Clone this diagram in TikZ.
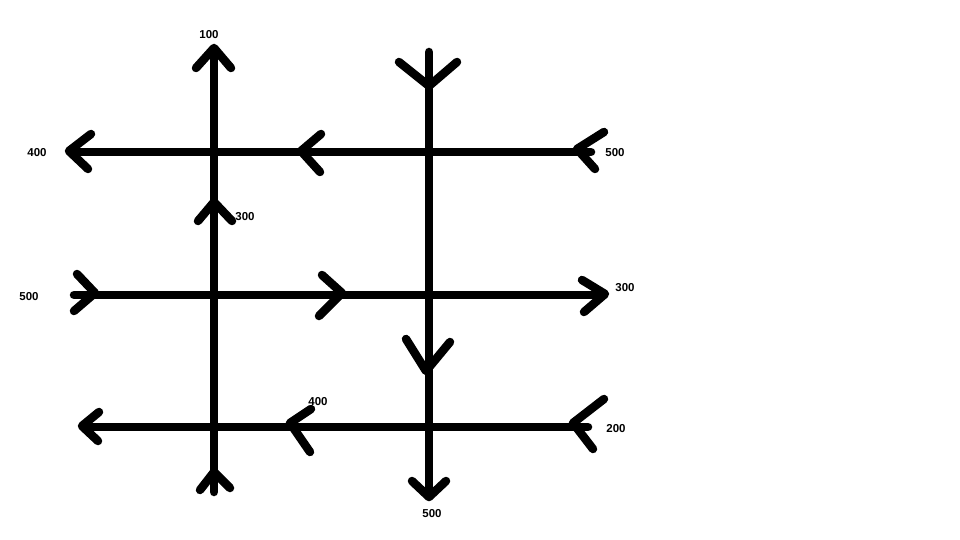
\documentclass[tikz,border=0pt]{standalone}
\usepackage{fontspec}
\setmainfont{Liberation Sans}
\begin{document}
\begin{tikzpicture}[x=1pt,y=-1pt,
  road/.style={line width=8.5pt,line cap=round},
  arm/.style={line width=8.5pt,line cap=round,line join=round},
  lbl/.style={font=\bfseries\fontsize{11.5}{13}\selectfont,inner sep=0pt}]
\useasboundingbox (0,0) rectangle (960,540);
\fill[white] (0,0) rectangle (960,540);
% end points
\coordinate (v1t) at (214,50);
\coordinate (v1b) at (214,492);
\coordinate (v2t) at (429,52);
\coordinate (v2b) at (429,495);
\coordinate (h1l) at (70,152);
\coordinate (h1r) at (591,152);
\coordinate (h2l) at (74,295);
\coordinate (h2r) at (603,295);
\coordinate (h3l) at (84,427);
\coordinate (h3r) at (588,427);
% roads
\draw[road] (v1t) -- (v1b);
\draw[road] (v2t) -- (v2b);
\draw[road] (h1l) -- (h1r);
\draw[road] (h2l) -- (h2r);
\draw[road] (h3l) -- (h3r);
% vertical 1 chevrons (up)
\draw[arm] (196,68) -- (214,48) -- (231,68);
\draw[arm] (198,221) -- (214,202) -- (232,221);
\draw[arm] (200,490) -- (214,472) -- (230,488);
% vertical 2 chevrons (down)
\draw[arm] (399,62) -- (429,86) -- (457,62);
\draw[arm] (406,339) -- (426,371) -- (450,342);
\draw[arm] (412,481) -- (429,497) -- (446,481);
% horizontal 1 chevrons (left)
\draw[arm] (91,134) -- (69,151) -- (88,169);
\draw[arm] (321,134) -- (301,151) -- (320,172);
\draw[arm] (604,132) -- (577,149) -- (595,169);
% horizontal 2 chevrons (right)
\draw[arm] (77,274) -- (95,293) -- (74,311);
\draw[arm] (322,275) -- (342,293) -- (319,316);
\draw[arm] (582,280) -- (605,294) -- (584,312);
% horizontal 3 chevrons (left)
\draw[arm] (99,412) -- (82,426) -- (98,441);
\draw[arm] (311,409) -- (290,423) -- (310,452);
\draw[arm] (604,399) -- (573,423) -- (593,449);
% labels
\node[lbl] (l100) at (209,35) {100};
\node[lbl] (l300a) at (245,217) {300};
\node[lbl] (l500b) at (432,514) {500};
\node[lbl] (l400a) at (37,153) {400};
\node[lbl] (l500a) at (615,153) {500};
\node[lbl] (l500c) at (29,297) {500};
\node[lbl] (l300b) at (625,288) {300};
\node[lbl] (l400b) at (318,402) {400};
\node[lbl] (l200) at (616,429) {200};
\end{tikzpicture}
\end{document}
